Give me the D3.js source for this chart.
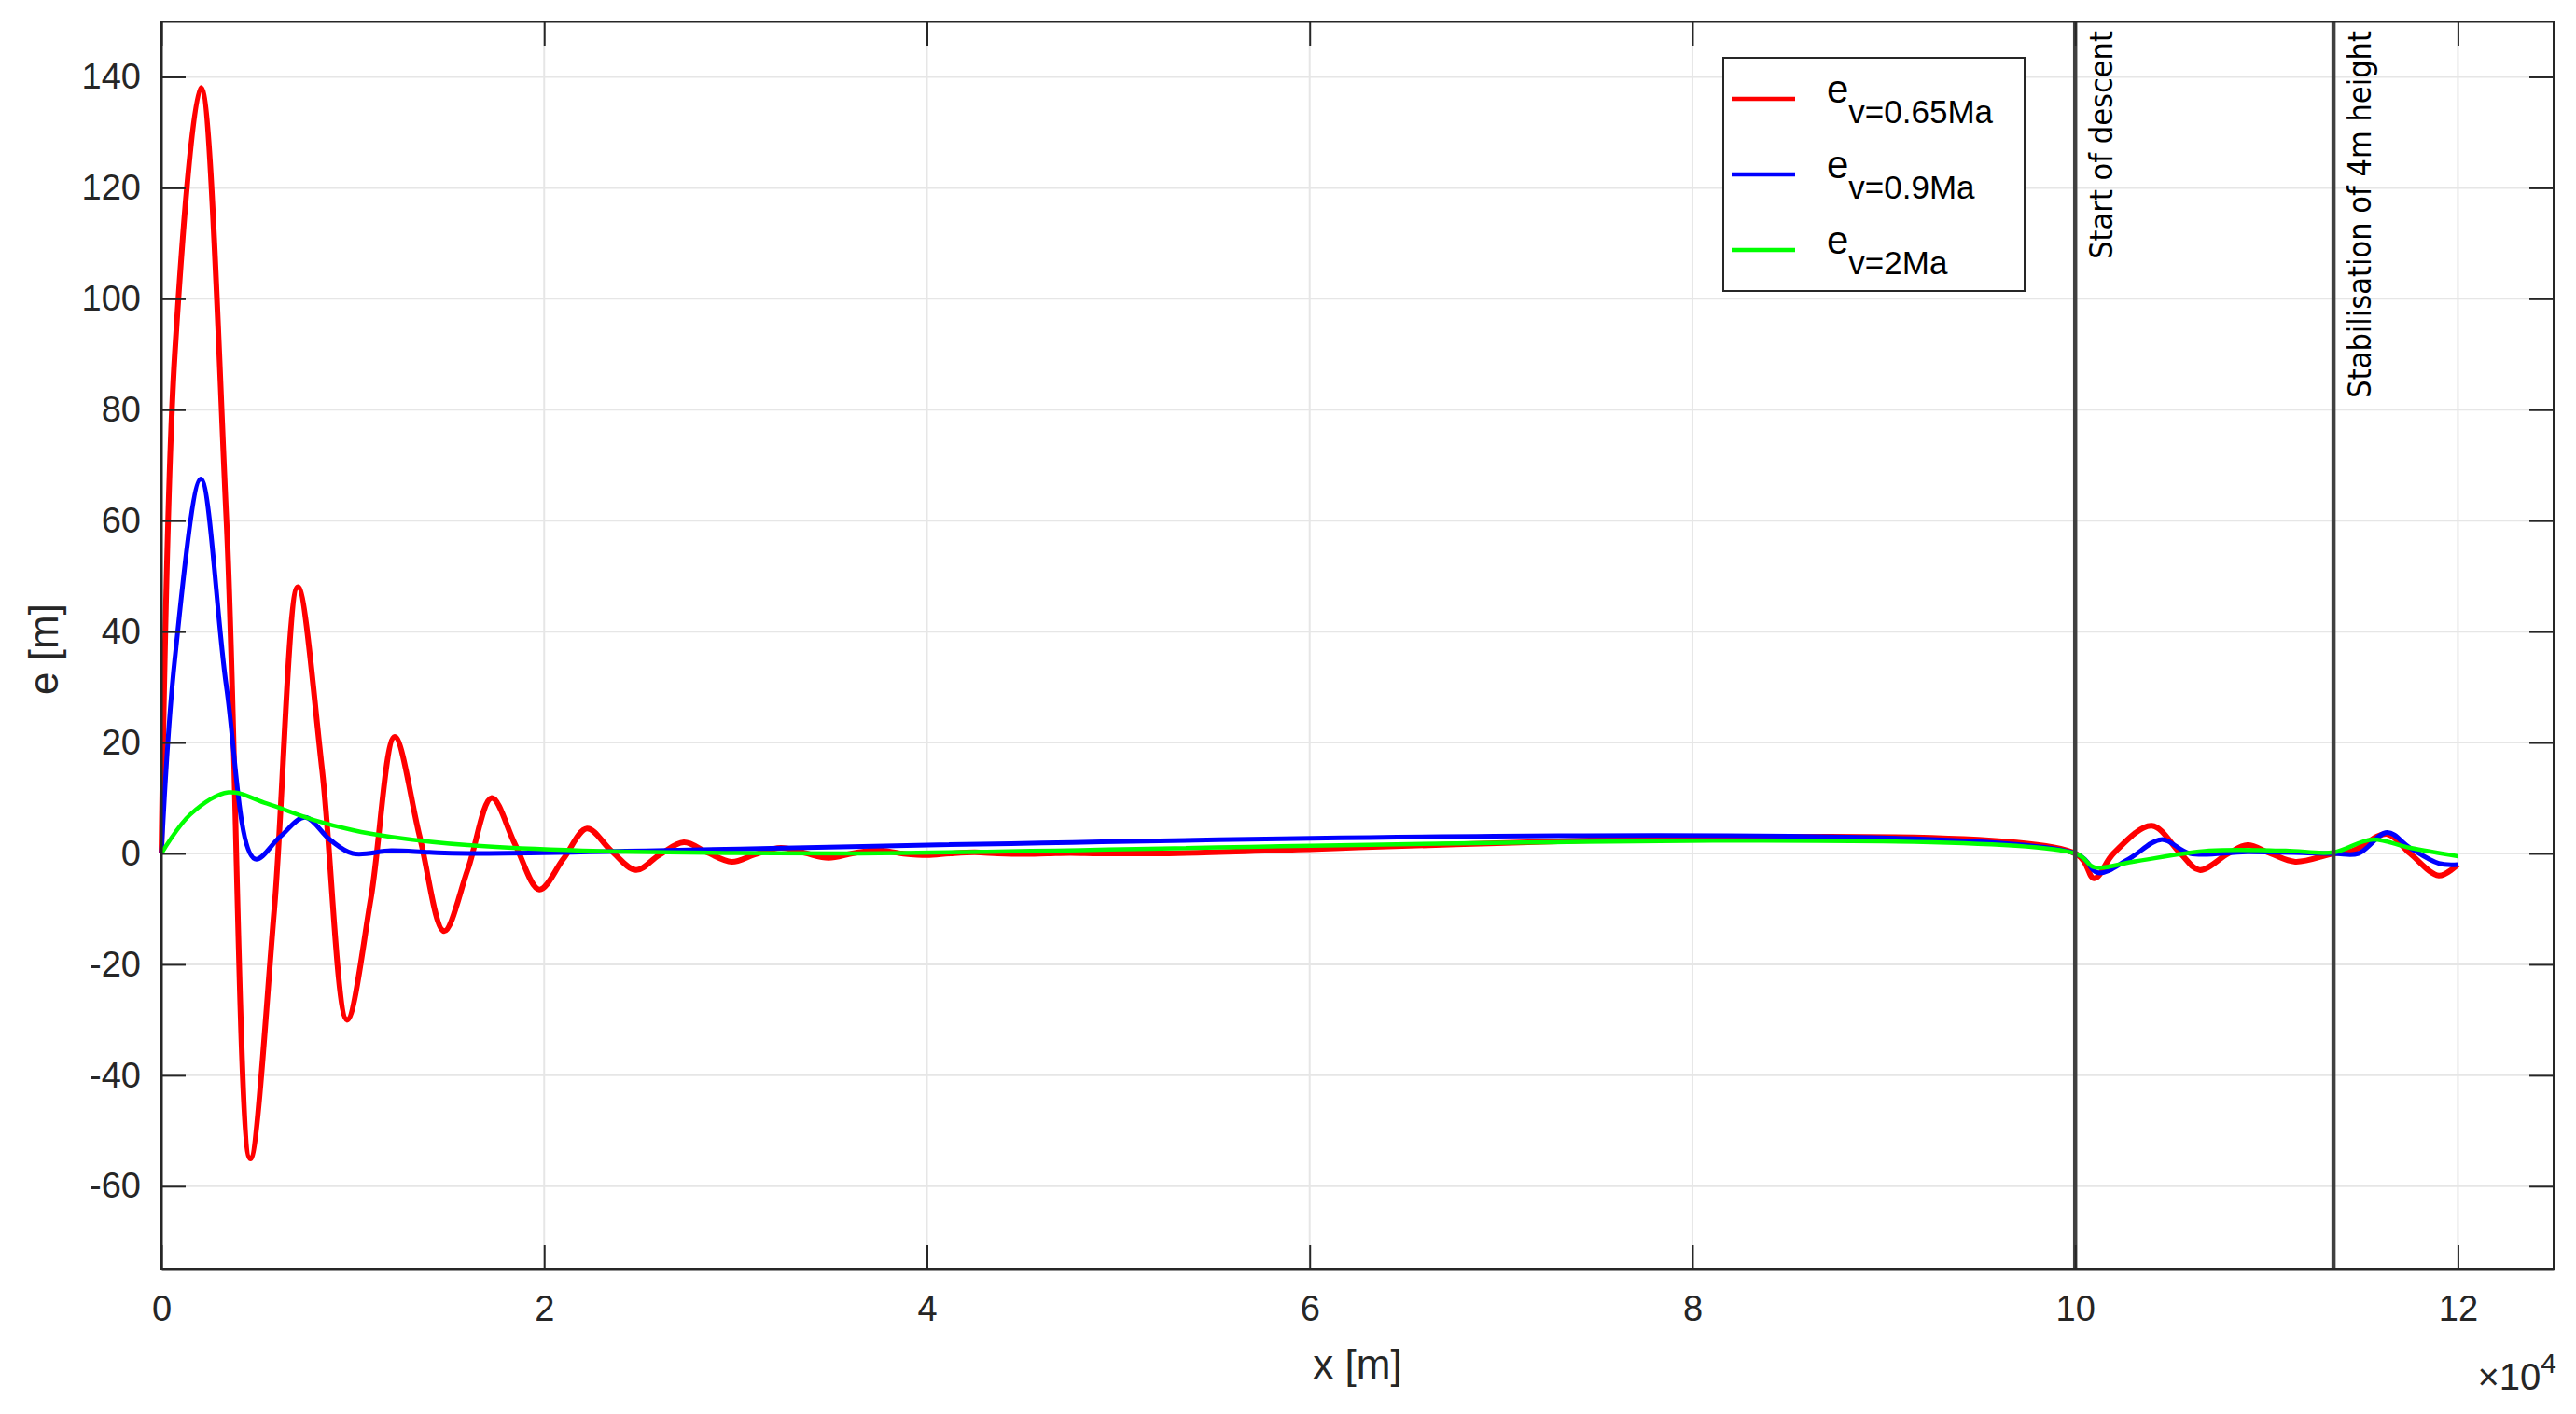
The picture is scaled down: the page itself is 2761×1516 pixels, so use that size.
<!DOCTYPE html>
<html><head><meta charset="utf-8">
<script src="https://cdn.jsdelivr.net/npm/d3@7"></script>
<style>body{margin:0;background:#fff}text{font-family:"Liberation Sans",Arial,sans-serif}</style>
</head><body><svg id="c" width="2761" height="1516"></svg>
<script>
const redX=[0,700,2060,3400,4640,5900,7130,8400,9700,10950,12190,13500,14770,16000,17260,18500,19750,21000,22240,23500,24800,26000,27300,28500,29800,31000,32370,33600,34860,36100,37350,38700,40000,41200,42500,43700,45000,46300,47500,49000,52000,100000,101000,102000,104000,105500,106500,108000,109000,110200,111500,113500,114500,116300,117500,119000,120000];
const redY=[0,90,138,60,-55,-10,48,15,-30,-8,21,3,-14,-3,10,1.5,-6.5,-1,4.5,0.5,-3,-0.3,2,0.2,-1.5,-0.2,1,0.1,-0.8,0,0.6,0,-0.3,0,0.2,0,-0.1,0,0.1,0,0,0,-4.5,0,5,0,-3,0,1.5,0,-1.5,0,0.5,3.5,0,-4,-2];
const blueX=[0,700,2060,3400,4890,6200,7500,8800,10000,12000,14000,16000,100000,101200,102800,104500,106000,109000,113500,114800,116300,117500,119000,120000];
const blueY=[0,35,67.5,30,-1,3,6.5,2.5,0,0.5,0.2,0,0,-3.5,-1,2.5,0,0.3,0,0,3.8,1,-1.8,-2];
const greenX=[0,1500,3500,5500,8000,10000,12000,16000,22000,30000,36000,100000,101000,103000,107000,111000,113500,115500,117500,120000];
const greenY=[0,7,11,9,6,4.2,3,1.5,0.5,0.1,0,0,-2.5,-1.5,0.5,0.5,0.2,2.5,1,-0.5];
const xTicks=[0,20000,40000,60000,80000,100000,120000];
const xTickLabels=["0","2","4","6","8","10","12"];
const yTicks=[-60,-40,-20,0,20,40,60,80,100,120,140];
const events=[{x:100000,label:"Start of descent"},{x:113500,label:"Stabilisation of 4m height"}];
const series=[{x:redX,y:redY,c:"#ff0000",w:6,sub:"v=0.65Ma"},{x:blueX,y:blueY,c:"#0000ff",w:5,sub:"v=0.9Ma"},{x:greenX,y:greenY,c:"#00ff00",w:4.5,sub:"v=2Ma"}];

const svg=d3.select("#c");
const L=173,R=2737,T=23,B=1361;
const x=d3.scaleLinear().domain([0,125000]).range([L,R]);
const y=d3.scaleLinear().domain([-75,150]).range([B,T]);
const g=svg.append("g");
g.selectAll(".gx").data(xTicks).join("line").attr("x1",d=>x(d)).attr("x2",d=>x(d)).attr("y1",T).attr("y2",B).attr("stroke","#e6e6e6").attr("stroke-width",2);
g.selectAll(".gy").data(yTicks).join("line").attr("y1",d=>y(d)).attr("y2",d=>y(d)).attr("x1",L).attr("x2",R).attr("stroke","#e6e6e6").attr("stroke-width",2);
const line=d3.line().curve(d3.curveCatmullRom.alpha(0.5));
series.forEach(s=>{
  g.append("path").attr("d",line(s.x.map((v,i)=>[x(v),y(s.y[i])]))).attr("fill","none").attr("stroke",s.c).attr("stroke-width",s.w).attr("stroke-linejoin","round");
});
events.forEach(e=>{
  g.append("line").attr("x1",x(e.x)).attr("x2",x(e.x)).attr("y1",T).attr("y2",B).attr("stroke","#404040").attr("stroke-width",4.5);
  g.append("text").attr("transform",`translate(${x(e.x)+40},${T+10}) rotate(-90)`).attr("text-anchor","end")
   .style("font-family","'Liberation Sans Narrow','DejaVu Sans Condensed',sans-serif").attr("font-size",34).attr("fill","#000").text(e.label);
});
const fmt=d=>String(d).replace("\u2212","-");
const ax=d3.axisBottom(x).tickValues(xTicks).tickFormat((d,i)=>xTickLabels[i]).tickSizeInner(-26).tickSizeOuter(0).tickPadding(28);
svg.append("g").attr("transform",`translate(0,${B})`).call(ax);
const ay=d3.axisLeft(y).tickValues(yTicks).tickFormat(fmt).tickSizeInner(-26).tickSizeOuter(0).tickPadding(22);
svg.append("g").attr("transform",`translate(${L},0)`).call(ay);
svg.append("g").attr("transform",`translate(${R},0)`).call(d3.axisRight(y).tickValues(yTicks).tickSizeInner(-26).tickSizeOuter(0).tickFormat(""));
svg.append("g").attr("transform",`translate(0,${T})`).call(d3.axisTop(x).tickValues(xTicks).tickSizeInner(-26).tickSizeOuter(0).tickFormat(""));
svg.selectAll(".domain").attr("stroke","#262626").attr("stroke-width",2);
svg.selectAll(".tick line").attr("stroke","#262626").attr("stroke-width",2);
svg.selectAll(".tick text").attr("font-size",38).attr("fill","#262626").style("font-family","'Liberation Sans',sans-serif");
svg.append("rect").attr("x",L).attr("y",T).attr("width",R-L).attr("height",B-T).attr("fill","none").attr("stroke","#262626").attr("stroke-width",2);
svg.append("text").attr("x",(L+R)/2).attr("y",1478).attr("text-anchor","middle").attr("font-size",44).attr("fill","#262626").text("x [m]");
svg.append("text").attr("transform","translate(62,696) rotate(-90)").attr("text-anchor","middle").attr("font-size",44).attr("fill","#262626").text("e [m]");
const ex=svg.append("text").attr("x",2740).attr("y",1490).attr("text-anchor","end").attr("font-size",40).attr("fill","#262626");
ex.append("tspan").text("×10");ex.append("tspan").attr("dy",-18).attr("font-size",30).text("4");
const lg=svg.append("g");
lg.append("rect").attr("x",1847).attr("y",62).attr("width",323).attr("height",250).attr("fill","#fff").attr("stroke","#262626").attr("stroke-width",2);
series.forEach((s,i)=>{
  const yy=106+i*81;
  lg.append("line").attr("x1",1856).attr("x2",1924).attr("y1",yy).attr("y2",yy).attr("stroke",s.c).attr("stroke-width",4.5);
  const t=lg.append("text").attr("x",1958).attr("y",yy+4).attr("font-size",42).attr("fill","#000");
  t.append("tspan").text("e");t.append("tspan").attr("dy",22).attr("font-size",35).text(s.sub);
});
</script></body></html>
